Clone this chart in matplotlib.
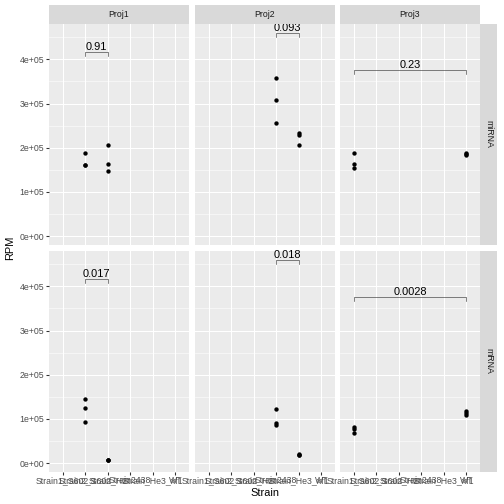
import matplotlib
matplotlib.use("Agg")
import matplotlib.pyplot as plt
from matplotlib.ticker import FuncFormatter, MultipleLocator

plt.rcParams['font.family'] = ['Liberation Sans', 'DejaVu Sans']

strains = ["Strain1_S602", "Strain2_S602", "Strain_H2", "Strain2438", "Strain_He3_xf1", "WT"]
projects = ["Proj1", "Proj2", "Proj3"]
rna_types = ["miRNA", "mRNA"]

# which two strains are compared in each project
pair_proj1 = ["Strain2_S602", "Strain_H2"]
pair_proj2 = ["Strain2438", "Strain_He3_xf1"]
pair_proj3 = ["Strain1_S602", "WT"]

# miRNA values (RPM)
mirna_proj1_a = [1.87e5, 1.61e5, 1.60e5]
mirna_proj1_b = [2.06e5, 1.63e5, 1.47e5]
mirna_proj2_a = [3.58e5, 3.07e5, 2.56e5]
mirna_proj2_b = [2.34e5, 2.29e5, 2.06e5]
mirna_proj3_a = [1.89e5, 1.62e5, 1.53e5]
mirna_proj3_b = [1.875e5, 1.85e5, 1.83e5]

# mRNA values (RPM)
mrna_proj1_a = [1.44e5, 1.25e5, 0.92e5]
mrna_proj1_b = [0.08e5, 0.07e5, 0.06e5]
mrna_proj2_a = [1.23e5, 0.90e5, 0.87e5]
mrna_proj2_b = [0.20e5, 0.19e5, 0.18e5]
mrna_proj3_a = [0.82e5, 0.78e5, 0.67e5]
mrna_proj3_b = [1.18e5, 1.13e5, 1.08e5]

p_mirna = ["0.91", "0.093", "0.23"]
p_mrna = ["0.017", "0.018", "0.0028"]
bracket_y = [4.17e5, 4.6e5, 3.76e5]

pairs = [pair_proj1, pair_proj2, pair_proj3]
values = {
    "miRNA": [(mirna_proj1_a, mirna_proj1_b), (mirna_proj2_a, mirna_proj2_b), (mirna_proj3_a, mirna_proj3_b)],
    "mRNA": [(mrna_proj1_a, mrna_proj1_b), (mrna_proj2_a, mrna_proj2_b), (mrna_proj3_a, mrna_proj3_b)],
}
pvals = {"miRNA": p_mirna, "mRNA": p_mrna}

W = H = 504
fig = plt.figure(figsize=(7, 7), dpi=72)

def box(x0, y0, x1, y1):
    return [x0 / W, 1 - y1 / H, (x1 - x0) / W, (y1 - y0) / H]

col_x = [(49, 189), (195, 335), (340, 480)]
row_y = [(23.5, 244.5), (250.5, 471.5)]
ylim = (-0.19e5, 4.81e5)
tip = 0.1e5

for r, rna in enumerate(rna_types):
    for c, proj in enumerate(projects):
        x0, x1 = col_x[c]
        y0, y1 = row_y[r]
        ax = fig.add_axes(box(x0, y0, x1, y1))
        ax.set_facecolor('#EBEBEB')
        for s in ax.spines.values():
            s.set_visible(False)
        ax.set_xlim(0.4, len(strains) + 0.6)
        ax.set_ylim(*ylim)
        ax.set_xticks(range(1, len(strains) + 1))
        ax.yaxis.set_major_locator(MultipleLocator(1e5))
        ax.yaxis.set_minor_locator(MultipleLocator(0.5e5))
        ax.grid(True, which='major', color='white', lw=1.07)
        ax.grid(True, which='minor', axis='y', color='white', lw=0.53)
        ax.set_axisbelow(True)
        ax.tick_params(which='minor', length=0)
        ax.tick_params(which='major', length=2.75, width=1.07, color='#333333',
                       labelsize=8.8, labelcolor='#4D4D4D', pad=2.2)
        if r == 1:
            ax.set_xticklabels(strains)
        else:
            ax.set_xticklabels([])
            ax.tick_params(axis='x', length=0)
        if c == 0:
            ax.yaxis.set_major_formatter(FuncFormatter(
                lambda v, p: ("%.0e" % v) if v != 0 else "0e+00"))
        else:
            ax.set_yticklabels([])
            ax.tick_params(axis='y', length=0)

        sa, sb = pairs[c]
        xa = strains.index(sa) + 1
        xb = strains.index(sb) + 1
        va, vb = values[rna][c]
        ax.scatter([xa] * len(va), va, s=19, color='black', zorder=3, lw=0)
        ax.scatter([xb] * len(vb), vb, s=19, color='black', zorder=3, lw=0)

        by = bracket_y[c]
        ax.plot([xa, xa, xb, xb], [by - tip, by, by, by - tip], color='#333333', lw=0.6)
        ax.text((xa + xb) / 2, by + 0.04e5, pvals[rna][c], ha='center', va='baseline',
                fontsize=11, color='black')

        # strips
        if r == 0:
            sax = fig.add_axes(box(x0, 5, x1, y0))
            sax.set_facecolor('#D9D9D9')
            sax.set_xticks([]); sax.set_yticks([])
            for s in sax.spines.values():
                s.set_visible(False)
            sax.text(0.5, 0.5, proj, ha='center', va='center', fontsize=8.8,
                     color='#1A1A1A', transform=sax.transAxes)
        if c == 2:
            sax = fig.add_axes(box(x1, y0, 497.5, y1))
            sax.set_facecolor('#D9D9D9')
            sax.set_xticks([]); sax.set_yticks([])
            for s in sax.spines.values():
                s.set_visible(False)
            sax.text(0.5, 0.5, rna, ha='center', va='center', fontsize=8.8,
                     color='#1A1A1A', rotation=-90, transform=sax.transAxes)

fig.text(264.5 / W, 1 - 496.5 / H, "Strain", ha='center', va='baseline', fontsize=11)
fig.text(10 / W, 1 - 247.5 / H, "RPM", ha='center', va='center', fontsize=11, rotation=90)

fig.savefig("out.png", dpi=72)
